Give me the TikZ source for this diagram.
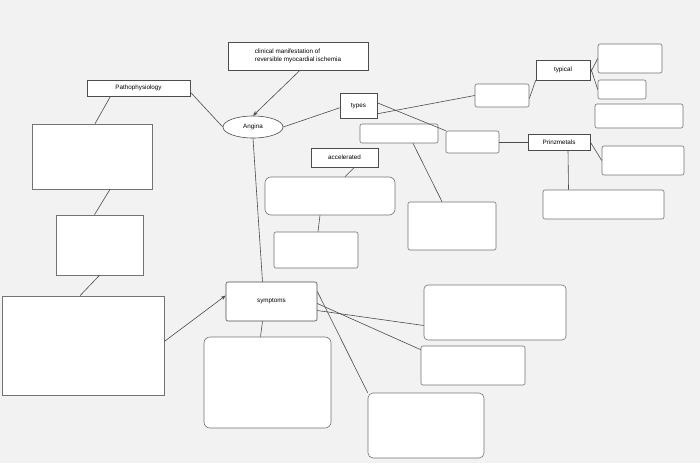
\documentclass[tikz,border=0pt]{standalone}
\usepackage{fontspec}
\setmainfont{Liberation Sans}
\usetikzlibrary{arrows.meta,shapes.geometric}
\begin{document}
\begin{tikzpicture}[x=1pt,y=-1pt,
  bx/.style={draw=black!55,line width=0.6pt,rounded corners=2pt,fill=white},
  lb/.style={draw=black!70,line width=0.6pt,fill=white,font=\fontsize{6.3}{7.3}\selectfont,inner sep=1pt},
  ln/.style={draw=black!70,line width=0.6pt},
  ar/.style={ln,-{Stealth[length=5pt]}}]
\useasboundingbox (0,0) rectangle (700,463);
\fill[white!95!black] (0,0) rectangle (700,463);
% labelled nodes
\node[lb,minimum width=140pt,minimum height=28pt,align=left] (clin) at (298,56) {clinical manifestation of\\reversible myocardial ischemia};
\node[lb,minimum width=103pt,minimum height=16pt] (patho) at (138.5,88) {Pathophysiology};
\node[lb,minimum width=37pt,minimum height=25pt,anchor=north] (types) at (358.5,93) {types};
\node[draw=black!70,line width=0.6pt,ellipse,fill=white,minimum width=60pt,minimum height=22pt,inner sep=0pt,font=\fontsize{6.3}{7.3}\selectfont] (ang) at (253,127) {Angina};
\node[lb,minimum width=54pt,minimum height=20pt] (typ) at (563,70) {typical};
\node[lb,minimum width=62pt,minimum height=16pt] (prinz) at (559,142) {Prinzmetals};
\node[lb,minimum width=67pt,minimum height=19pt] (acc) at (344.5,157.5) {accelerated};
\node[bx,draw=black!70,minimum width=91pt,minimum height=39pt,font=\fontsize{6.3}{7.3}\selectfont,rounded corners=2pt] (sym) at (271.5,301.5) {symptoms};
% empty boxes
\node[bx,minimum width=64pt,minimum height=29pt] (b1) at (630,58.5) {};
\node[bx,minimum width=48pt,minimum height=19pt] (b2) at (622,89.5) {};
\node[bx,minimum width=54pt,minimum height=23pt] (b3) at (502,95.5) {};
\node[bx,minimum width=88pt,minimum height=24pt] (b4) at (639,116) {};
\node[bx,minimum width=78pt,minimum height=19pt] (b5) at (399,133.5) {};
\node[bx,minimum width=53pt,minimum height=22pt] (b6) at (472.5,142) {};
\node[bx,minimum width=82pt,minimum height=29pt] (b7) at (643,160.5) {};
\node[bx,rounded corners=0pt,minimum width=120pt,minimum height=65pt] (b8) at (92,156.5) {};
\node[bx,rounded corners=6pt,minimum width=130pt,minimum height=38pt] (b9) at (330,196) {};
\node[bx,minimum width=88pt,minimum height=48pt] (b10) at (452,226) {};
\node[bx,minimum width=121pt,minimum height=29pt] (b11) at (603.5,204.5) {};
\node[bx,rounded corners=0pt,minimum width=87pt,minimum height=60pt] (b12) at (99.5,245) {};
\node[bx,minimum width=84pt,minimum height=36pt] (b13) at (316,250) {};
\node[bx,rounded corners=4pt,minimum width=142pt,minimum height=55pt] (b14) at (495,312.5) {};
\node[bx,rounded corners=0pt,minimum width=162pt,minimum height=99pt] (b15) at (83,345.5) {};
\node[bx,rounded corners=6pt,minimum width=127pt,minimum height=91pt] (b16) at (267.5,382.5) {};
\node[bx,minimum width=104pt,minimum height=39pt] (b17) at (473,365.5) {};
\node[bx,rounded corners=5pt,minimum width=116pt,minimum height=65pt] (b18) at (426,425.5) {};
% connectors
\draw[ar] (clin.south) ++(2,0) -- (ang.north);
\draw[ln] (patho.east) ++(0,4) -- (ang.west);
\draw[ln] (patho.south) ++(-28,0) -- ([xshift=3pt]b8.north);
\draw[ln] ([xshift=18pt]b8.south) -- ([xshift=-5pt]b12.north);
\draw[ln] (b12.south) -- ([xshift=-3pt]b15.north);
\draw[ln] (ang.east) -- ([yshift=-2pt]types.west);
\draw[ln] (ang.south) -- ([xshift=-9pt]sym.north);
\draw[ln] ([yshift=-8pt]types.east) -- (b3.west);
\draw[ln] ([yshift=3pt]types.east) -- (b6.north west);
\draw[ln] ([xshift=14pt]b5.south) -- ([xshift=-10pt]b10.north);
\draw[ln] (b6.east) -- (prinz.west);
\draw[ln] ([yshift=-3pt]b3.east) -- (typ.south west);
\draw[ln] ([yshift=-3pt]typ.east) -- (b1.west);
\draw[ln] ([yshift=3pt]typ.east) -- (b2.west);
\draw[ln] (prinz.east) -- (b7.west);
\draw[ln] ([xshift=9pt]prinz.south) -- ([xshift=-35pt]b11.north);
\draw[ln] ([xshift=10pt]acc.south) -- ([xshift=15pt]b9.north);
\draw[ln] ([xshift=-10pt]b9.south) -- ([xshift=2pt]b13.north);
\draw[ar] ([yshift=4pt]b15.east) -- ([yshift=6pt]sym.west);
\draw[ln] ([yshift=-9pt]sym.east) -- ([yshift=-13pt]b14.west);
\draw[ln] ([yshift=-2pt]sym.east) -- ([yshift=-4pt]b17.north west);
\draw[ln] ([yshift=10pt]sym.east) -- (b18.north west);
\draw[ln] ([xshift=-9pt]sym.south) -- ([xshift=-7pt]b16.north);
\end{tikzpicture}
\end{document}
